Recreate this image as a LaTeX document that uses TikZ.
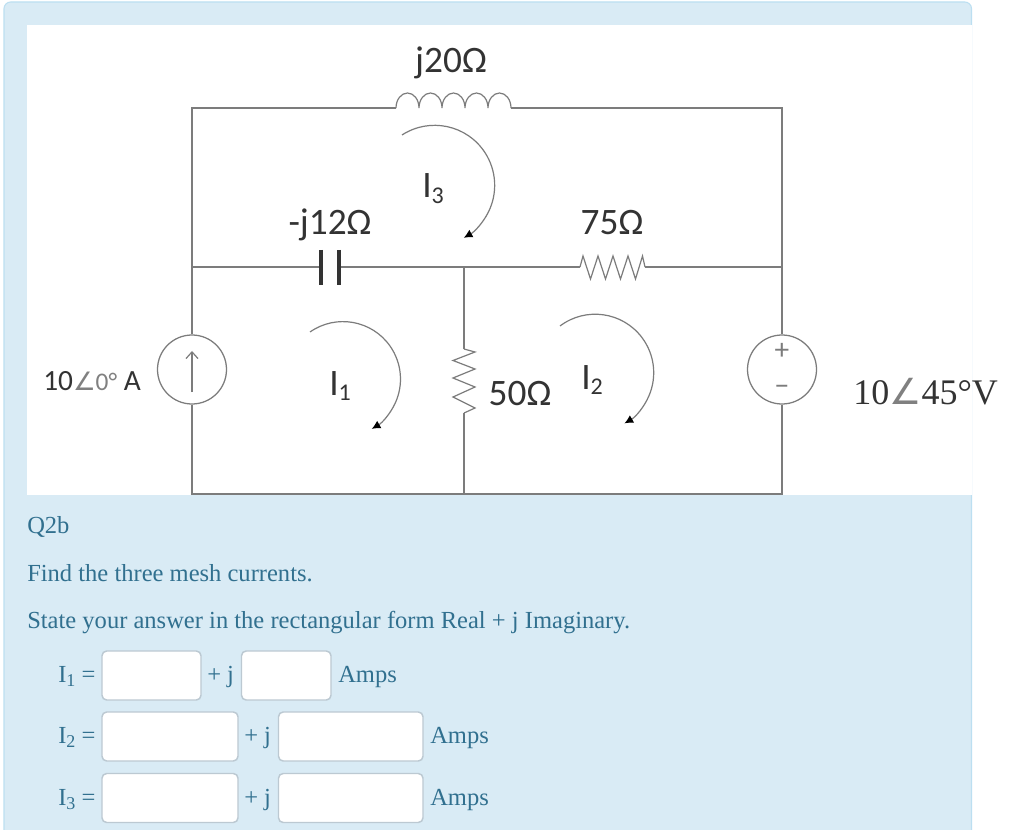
\documentclass[tikz,border=0pt]{standalone}
\usepackage{fontspec}
\setmainfont{Liberation Serif}
\newfontfamily\calfnt{Carlito}
\newfontfamily\djv{DejaVu Sans}
\usetikzlibrary{arrows.meta}
\definecolor{panel}{HTML}{D9EBF5}
\definecolor{panelb}{HTML}{BCDFF1}
\definecolor{qtext}{HTML}{31708F}
\definecolor{wire}{HTML}{7C7C7C}
\definecolor{ink}{HTML}{333333}
\definecolor{boxb}{HTML}{BCC9D2}
\newcommand{\sbs}[1]{\raisebox{-.2em}{\fontsize{13.5}{13.5}\selectfont #1}}
\newcommand{\angsym}{{\djv\color{gray}\scalebox{1.0}[1]{∠}}}
\tikzset{
  x=0.75pt,y=-0.75pt,
  wireline/.style={draw=wire,line width=1.25pt},
  thinwire/.style={draw=wire,line width=0.9pt},
  platec/.style={draw=ink,line width=2.6pt},
  meshline/.style={draw=wire,line width=0.9pt,-{Latex[length=6.5pt,width=6.5pt,color=black]}},
  srcc/.style={circle,draw=wire,line width=0.95pt,fill=white,minimum size=51.75pt,inner sep=0pt},
  cirtext/.style={font=\calfnt\fontsize{28}{30}\selectfont,text=ink,anchor=base,inner sep=0pt},
  currtext/.style={font=\calfnt\fontsize{28}{30}\selectfont,text=ink,anchor=base west,inner sep=0pt},
  qt/.style={font=\fontsize{18.4}{20}\selectfont,text=qtext,anchor=base west,inner sep=0pt},
  ansbox/.style={draw=boxb,line width=1.1pt,fill=white,rounded corners=3.5pt},
}
\begin{document}
\begin{tikzpicture}
\path[use as bounding box] (0,0) rectangle (1024,830);
\clip (0,0) rectangle (1024,830);
\fill[white] (0,0) rectangle (1024,830);
\draw[panelb,fill=panel,line width=0.8pt,rounded corners=5pt] (4,2) rectangle (971.5,860);
\fill[white] (27,25) rectangle (972,495);

% circuit reference points
\coordinate (TL) at (192,108);
\coordinate (TR) at (782,108);
\coordinate (ML) at (192,267);
\coordinate (MM) at (464,267);
\coordinate (MR) at (782,267);
\coordinate (BL) at (192,494);
\coordinate (BM) at (464,494);
\coordinate (BR) at (782,494);
\coordinate (LA) at (396,108);
\coordinate (LB) at (511,108);
\coordinate (CA) at (321,267);
\coordinate (CB) at (339,267);
\coordinate (RA) at (580,267);
\coordinate (RB) at (645,267);
\coordinate (SA) at (464,349);
\coordinate (SB) at (464,413);
\node[srcc] (IS) at (192,369.5) {};
\node[srcc] (VS) at (782,369.5) {};

% wires
\draw[wireline] (ML) -- (TL) -- (LA);
\draw[wireline] (LB) -- (TR) -- (MR);
\draw[wireline] (IS.north) -- (ML);
\draw[wireline] (IS.south) -- (BL) -- (BM);
\draw[wireline] (ML) -- (CA);
\draw[wireline] (CB) -- (MM);
\draw[wireline] (MM) -- (RA);
\draw[wireline] (RB) -- (MR);
\draw[wireline] (MR) -- (VS.north);
\draw[wireline] (VS.south) -- (BR) -- (BM);
\draw[wireline] (MM) -- (SA);
\draw[wireline] (SB) -- (BM);

% inductor
\draw[thinwire] (LA) arc[start angle=180,end angle=360,x radius=11.5,y radius=15]
  arc[start angle=180,end angle=360,x radius=11.5,y radius=15]
  arc[start angle=180,end angle=360,x radius=11.5,y radius=15]
  arc[start angle=180,end angle=360,x radius=11.5,y radius=15]
  arc[start angle=180,end angle=360,x radius=11.5,y radius=15];

% capacitor
\draw[platec] (321,250) -- (321,285.5);
\draw[platec] (339,250) -- (339,285.5);

% resistors
\draw[thinwire,line join=miter] (RA) -- ++(3,-11) -- ++(7.5,23) -- ++(7.5,-23) -- ++(7.5,23) -- ++(7.5,-23) -- ++(7.5,23) -- ++(7.5,-23) -- ++(7.5,23) -- ++(7,-23) -- (RB);
\draw[thinwire,line join=miter] (SA) -- (475,352) -- (453,360.5) -- (475,369) -- (453,378) -- (475,387) -- (453,397) -- (475,408) -- (SB);

% source symbols
\coordinate (ISb) at (192,392);
\coordinate (ISt) at (192,351);
\draw[thinwire,-{Straight Barb[length=5pt,width=9pt]}] (ISb) -- (ISt);
\node[font=\calfnt\fontsize{22}{22}\selectfont,text=wire,inner sep=0pt] (plus) at (782,351) {+};
\node[font=\calfnt\fontsize{22}{22}\selectfont,text=wire,inner sep=0pt] (minus) at (782,390) {−};

% mesh arrows
\coordinate (M3) at (402,135);
\coordinate (M1) at (310,332);
\coordinate (M2) at (560,326);
\draw[meshline] (M3) arc[start angle=237,end angle=421,x radius=60,y radius=60];
\draw[meshline] (M1) arc[start angle=235,end angle=420,x radius=57.5,y radius=57.5];
\draw[meshline] (M2) arc[start angle=233,end angle=420,x radius=58.5,y radius=58.5];

% circuit labels
\node[cirtext] (L20) at (451,73) {j20Ω};
\node[cirtext] (C12) at (330,235) {-j12Ω};
\node[cirtext] (R75) at (612,235) {75Ω};
\node[cirtext] (R50) at (520,406) {50Ω};
\node[currtext] (I3) at (422,198) {I\raisebox{-.14em}{\fontsize{18}{18}\selectfont 3}};
\node[currtext] (I1) at (329,395) {I\raisebox{-.14em}{\fontsize{18}{18}\selectfont 1}};
\node[currtext] (I2) at (581,389) {I\raisebox{-.14em}{\fontsize{18}{18}\selectfont 2}};
\node[font=\calfnt\fontsize{22}{24}\selectfont,text=ink,anchor=base west,inner sep=0pt] (IV) at (43,391) {10\textcolor{gray}{\fontsize{19}{20}\selectfont\angsym{}0°} A};
\node[font=\fontsize{27}{30}\selectfont,text=ink,anchor=base west,inner sep=0pt] (VV) at (853,404) {10\angsym{}45°V};

% question text
\node[qt] (q) at (27,533) {Q2b};
\node[qt] (f) at (27,581) {Find the three mesh currents.};
\node[qt] (s) at (27,628) {State your answer in the rectangular form Real + j Imaginary.};

% answer rows
\node[qt] (i1) at (58,682) {I\sbs{1} =};
\node[qt] (i2) at (58,743) {I\sbs{2} =};
\node[qt] (i3) at (58,805) {I\sbs{3} =};
\draw[ansbox] (102,651) rectangle (201,700);
\draw[ansbox] (241.5,651) rectangle (331,700);
\draw[ansbox] (102,712) rectangle (238,761);
\draw[ansbox] (278.5,712) rectangle (423,761);
\draw[ansbox] (102,773.5) rectangle (238,822.5);
\draw[ansbox] (278.5,773.5) rectangle (423,822.5);
\node[qt] (p1) at (207,682) {+ j};
\node[qt] (p2) at (244,743) {+ j};
\node[qt] (p3) at (244,805) {+ j};
\node[qt] (a1) at (338,682) {Amps};
\node[qt] (a2) at (430,743) {Amps};
\node[qt] (a3) at (430,805) {Amps};
\end{tikzpicture}
\end{document}
